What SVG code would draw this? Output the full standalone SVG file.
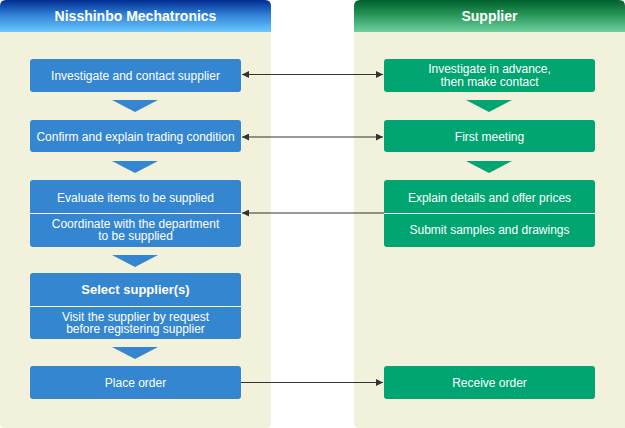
<svg xmlns="http://www.w3.org/2000/svg" width="625" height="428" viewBox="0 0 625 428">
<defs>
<linearGradient id="gb" x1="0" y1="0" x2="0" y2="1">
<stop offset="0" stop-color="#002b8f"/><stop offset="0.45" stop-color="#2f7fd6"/><stop offset="1" stop-color="#6cc9ff"/>
</linearGradient>
<linearGradient id="gg" x1="0" y1="0" x2="0" y2="1">
<stop offset="0" stop-color="#00612e"/><stop offset="0.45" stop-color="#269457"/><stop offset="1" stop-color="#6fd09e"/>
</linearGradient>
<marker id="ah" viewBox="0 0 10 10" refX="10" refY="5" markerWidth="7" markerHeight="7" orient="auto-start-reverse" markerUnits="userSpaceOnUse">
<path d="M0,0 L10,5 L0,10 z" fill="#333"/>
</marker>
<style>
.panel{fill:#f2f1db}
.b{fill:#3586d0}
.g{fill:#00a571}
.tb{fill:#3586d0}
.tg{fill:#00a571}
.t{font-family:"Liberation Sans",Arial,sans-serif;font-size:12px;fill:#fff;text-anchor:middle}
.h{font-family:"Liberation Sans",Arial,sans-serif;font-size:14px;font-weight:bold;fill:#fff;text-anchor:middle}
.bold{font-weight:bold;font-size:13px}
.div{stroke:#fff;stroke-width:1}
.c{stroke:#333;stroke-width:1.2;fill:none}
</style>
</defs>
<g id="panel-left">
<path class="panel" d="M0,32 H271 V423 Q271,428 266,428 H5 Q0,428 0,423 Z"/>
<path fill="url(#gb)" d="M0,6 Q0,0 6,0 H265 Q271,0 271,6 V32 H0 Z"/>
<text class="h" x="135.5" y="21">Nisshinbo Mechatronics</text>
</g>
<g id="panel-right">
<path class="panel" d="M354,32 H625 V428 H359 Q354,428 354,423 Z"/>
<path fill="url(#gg)" d="M354,6 Q354,0 360,0 H619 Q625,0 625,6 V32 H354 Z"/>
<text class="h" x="489.5" y="21">Supplier</text>
</g>
<g id="n-investigate">
<rect class="b" x="30" y="59" width="211" height="33" rx="3"/>
<text class="t" x="135.5" y="79.5">Investigate and contact supplier</text>
</g>
<g id="n-confirm">
<rect class="b" x="30" y="120" width="211" height="32" rx="3"/>
<text class="t" x="135.5" y="140.5">Confirm and explain trading condition</text>
</g>
<g id="n-evaluate">
<rect class="b" x="30" y="180" width="211" height="67" rx="3"/>
<line class="div" x1="30" y1="213.5" x2="241" y2="213.5"/>
<text class="t" x="135.5" y="201.5">Evaluate items to be supplied</text>
<text class="t" x="135.5" y="227.5">Coordinate with the department</text>
<text class="t" x="135.5" y="240">to be supplied</text>
</g>
<g id="n-select">
<rect class="b" x="30" y="273" width="211" height="66" rx="3"/>
<line class="div" x1="30" y1="306.5" x2="241" y2="306.5"/>
<text class="t bold" x="135.5" y="294">Select supplier(s)</text>
<text class="t" x="135.5" y="320.5">Visit the supplier by request</text>
<text class="t" x="135.5" y="333">before registering supplier</text>
</g>
<g id="n-place">
<rect class="b" x="30" y="366" width="211" height="33" rx="3"/>
<text class="t" x="135.5" y="386.5">Place order</text>
</g>
<g id="n-advance">
<rect class="g" x="384" y="59" width="211" height="33" rx="3"/>
<text class="t" x="489.5" y="73">Investigate in advance,</text>
<text class="t" x="489.5" y="85.5">then make contact</text>
</g>
<g id="n-meeting">
<rect class="g" x="384" y="120" width="211" height="32" rx="3"/>
<text class="t" x="489.5" y="140.5">First meeting</text>
</g>
<g id="n-explain">
<rect class="g" x="384" y="180" width="211" height="67" rx="3"/>
<line class="div" x1="384" y1="213.5" x2="595" y2="213.5"/>
<text class="t" x="489.5" y="201.5">Explain details and offer prices</text>
<text class="t" x="489.5" y="234">Submit samples and drawings</text>
</g>
<g id="n-receive">
<rect class="g" x="384" y="366" width="211" height="33" rx="3"/>
<text class="t" x="489.5" y="386.5">Receive order</text>
</g>
<g id="connectors">
<polygon class="tb" points="112,100 158,100 135,112"/>
<polygon class="tb" points="112,161 158,161 135,173"/>
<polygon class="tb" points="112,255 158,255 135,267"/>
<polygon class="tb" points="112,347 158,347 135,359"/>
<polygon class="tg" points="466,100 512,100 489,112"/>
<polygon class="tg" points="466,161 512,161 489,173"/>
<line class="c" x1="242" y1="74.5" x2="383" y2="74.5" marker-start="url(#ah)" marker-end="url(#ah)"/>
<line class="c" x1="242" y1="137" x2="383" y2="137" marker-start="url(#ah)" marker-end="url(#ah)"/>
<line class="c" x1="384" y1="213" x2="242" y2="213" marker-end="url(#ah)"/>
<line class="c" x1="241" y1="382.5" x2="383" y2="382.5" marker-end="url(#ah)"/>
</g>
</svg>
